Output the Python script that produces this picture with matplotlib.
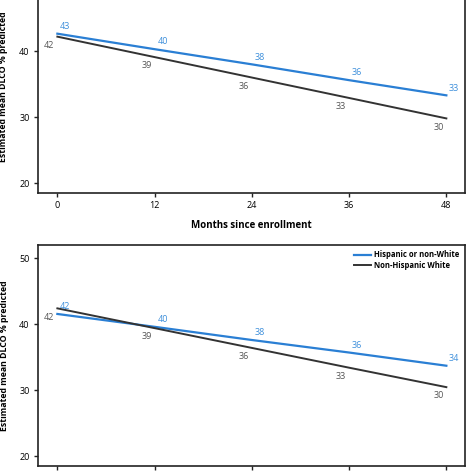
import matplotlib
matplotlib.use("Agg")
import matplotlib.pyplot as plt

plt.rcParams['font.family'] = ['Open Sans', 'DejaVu Sans']

months = [0, 12, 24, 36, 48]
tick_labels = ['0', '12', '24', '36', '48']

# top panel
top_hisp = [42.65, 40.3, 38.0, 35.6, 33.3]
top_white = [42.2, 39.1, 36.0, 32.9, 29.8]
top_hisp_lbl = ['43', '40', '38', '36', '33']
top_white_lbl = ['42', '39', '36', '33', '30']

# bottom panel
bot_hisp = [41.55, 39.6, 37.6, 35.7, 33.7]
bot_white = [42.4, 39.4, 36.4, 33.4, 30.45]
bot_hisp_lbl = ['42', '40', '38', '36', '34']
bot_white_lbl = ['42', '39', '36', '33', '30']

blue = '#2a7fd4'
blue_txt = '#3d8fdb'
dark = '#333333'
gray_txt = '#555555'

fig = plt.figure(figsize=(4.74, 4.74), dpi=100)
ax1 = fig.add_axes([0.080, 0.593, 0.901, 0.466])
ax2 = fig.add_axes([0.080, 0.017, 0.901, 0.466])


def draw(ax, hisp, white, hl, wl, yticks, legend=False, xlabels=True):
    ax.plot(months, hisp, color=blue, lw=1.6, label='Hispanic or non-White')
    ax.plot(months, white, color=dark, lw=1.4, label='Non-Hispanic White')
    for x, y, s in zip(months, hisp, hl):
        ax.annotate(s, (x, y), xytext=(2, 2), textcoords='offset points',
                    ha='left', va='bottom', fontsize=6.5, color=blue_txt)
    for x, y, s in zip(months, white, wl):
        ax.annotate(s, (x, y), xytext=(-2, -3), textcoords='offset points',
                    ha='right', va='top', fontsize=6.5, color=gray_txt)
    ax.set_xlim(-2.4, 50.3)
    ax.set_ylim(18.5, 52)
    ax.set_yticks(yticks)
    ax.set_xticks(months)
    ax.set_xticklabels(tick_labels if xlabels else [])
    ax.tick_params(labelsize=6.5, length=3, width=1, color='#222222', pad=3)
    for sp in ax.spines.values():
        sp.set_linewidth(1.2)
        sp.set_color('#222222')
    ax.set_ylabel('Estimated mean DLCO % predicted', fontsize=6.3,
                  fontweight='bold', labelpad=7)
    if legend:
        leg = ax.legend(loc='upper right', frameon=False, fontsize=5.5,
                        handlelength=2.2, handletextpad=0.5,
                        labelspacing=0.2, borderaxespad=0.3)
        for t in leg.get_texts():
            t.set_fontweight('bold')


# upper panel is cropped at the top edge, 50 tick falls outside
draw(ax1, top_hisp, top_white, top_hisp_lbl, top_white_lbl, [20, 30, 40])
ax1.set_xlabel('Months since enrollment', fontsize=7, fontweight='bold', labelpad=7)
# lower panel is cropped at the bottom edge, so its tick labels fall outside
draw(ax2, bot_hisp, bot_white, bot_hisp_lbl, bot_white_lbl, [20, 30, 40, 50],
     legend=True, xlabels=False)
ax1.yaxis.set_label_coords(-0.07, 0.48)

fig.savefig('out.png', dpi=100)
